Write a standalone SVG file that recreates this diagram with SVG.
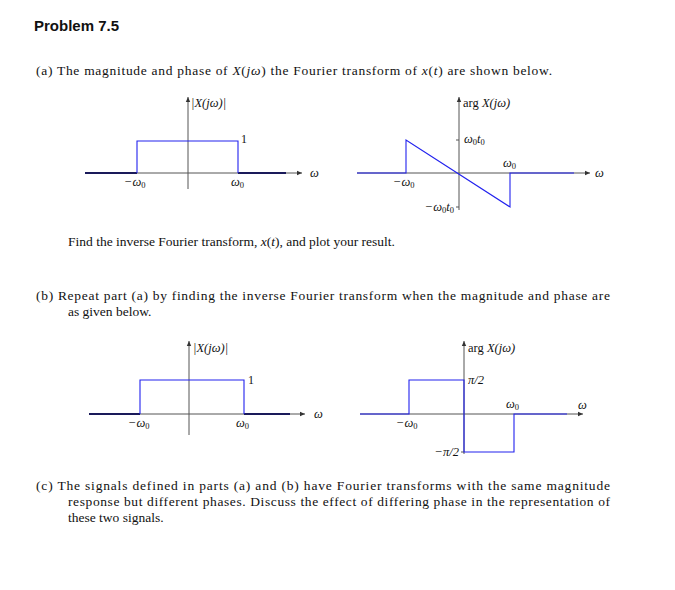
<svg xmlns="http://www.w3.org/2000/svg" width="675" height="590" viewBox="0 0 675 590">
<style>
text{font-family:"Liberation Serif","DejaVu Serif",serif;font-size:13.5px;fill:#111}
.m{font-style:italic;font-size:12.5px}
.s{font-size:12px}
.b{font-style:normal;font-size:8.5px}
.ax{stroke:#555;stroke-width:1;fill:none}
.bl{stroke:#2222ee;stroke-width:1.1;fill:none}
.bk{stroke:#1a1a5a;stroke-width:1.8;fill:none}
</style>
<defs><marker id="ar" markerWidth="6" markerHeight="6" refX="5" refY="3" orient="auto" markerUnits="userSpaceOnUse"><path d="M0,0.8 L5,3 L0,5.2 Z" fill="#333"/></marker></defs>
<rect width="675" height="590" fill="#fff"/>
<text x="34" y="31" style="font-family:'Liberation Sans',Arial,sans-serif;font-weight:bold;font-size:15px">Problem 7.5</text>
<text x="36" y="75" textLength="516" lengthAdjust="spacing">(a) The magnitude and phase of <tspan font-style="italic">X</tspan>(<tspan font-style="italic">jω</tspan>) the Fourier transform of <tspan font-style="italic">x</tspan>(<tspan font-style="italic">t</tspan>) are shown below.</text>
<text x="68" y="246">Find the inverse Fourier transform, <tspan font-style="italic">x</tspan>(<tspan font-style="italic">t</tspan>), and plot your result.</text>
<text x="36" y="300" textLength="574">(b) Repeat part (a) by finding the inverse Fourier transform when the magnitude and phase are</text>
<text x="68" y="316">as given below.</text>
<text x="36" y="490" textLength="574">(c) The signals defined in parts (a) and (b) have Fourier transforms with the same magnitude</text>
<text x="68" y="506" textLength="542">response but different phases. Discuss the effect of differing phase in the representation of</text>
<text x="68" y="522">these two signals.</text>
<g id="plot-a-mag">
<line class="ax" x1="85" y1="173" x2="302" y2="173" marker-end="url(#ar)"/>
<line class="ax" x1="188" y1="189" x2="188" y2="97" marker-end="url(#ar)"/>
<path class="bk" d="M85,173H137M238,173H286"/>
<path class="bl" d="M137,173V141H238V173"/>
<text x="241" y="143" class="s">1</text>
<text x="124" y="186" class="m">−ω<tspan class="b" dy="2">0</tspan></text>
<text x="231" y="186" class="m">ω<tspan class="b" dy="2">0</tspan></text>
<text x="310" y="177" class="m">ω</text>
<text x="191" y="107" class="m">|X(jω)|</text>
</g>
<g id="plot-a-phase">
<line class="ax" x1="357" y1="173" x2="590" y2="173" marker-end="url(#ar)"/>
<line class="ax" x1="459" y1="210" x2="459" y2="97" marker-end="url(#ar)"/>
<path class="ax" d="M456,140H459M456,207H459"/>
<path class="bl" d="M357,173H406V140L510,207V173H574"/>
<text x="464" y="143" class="m">ω<tspan class="b" dy="2">0</tspan><tspan dy="-2">t</tspan><tspan class="b" dy="2">0</tspan></text>
<text x="503" y="167" class="m">ω<tspan class="b" dy="2">0</tspan></text>
<text x="393" y="186" class="m">−ω<tspan class="b" dy="2">0</tspan></text>
<text x="454" y="211" class="m" text-anchor="end">−ω<tspan class="b" dy="2">0</tspan><tspan dy="-2">t</tspan><tspan class="b" dy="2">0</tspan></text>
<text x="595" y="177" class="m">ω</text>
<text x="463" y="107" class="m"><tspan font-style="normal">arg </tspan>X(jω)</text>
</g>
<g id="plot-b-mag">
<line class="ax" x1="89" y1="414" x2="305" y2="414" marker-end="url(#ar)"/>
<line class="ax" x1="189" y1="435" x2="189" y2="341" marker-end="url(#ar)"/>
<path class="bk" d="M89,414H140M244,414H290"/>
<path class="bl" d="M140,414V380H244V414"/>
<text x="248" y="384" class="s">1</text>
<text x="128" y="427" class="m">−ω<tspan class="b" dy="2">0</tspan></text>
<text x="236" y="427" class="m">ω<tspan class="b" dy="2">0</tspan></text>
<text x="314" y="418" class="m">ω</text>
<text x="193" y="352" class="m">|X(jω)|</text>
</g>
<g id="plot-b-phase">
<line class="ax" x1="360" y1="414" x2="583" y2="414" marker-end="url(#ar)"/>
<line class="ax" x1="464" y1="454" x2="464" y2="341" marker-end="url(#ar)"/>
<path class="ax" d="M461,452H464"/>
<path class="bl" d="M360,414H409V380H464V452H514V414H567"/>
<text x="468" y="384" class="m">π/2</text>
<text x="506" y="408" class="m">ω<tspan class="b" dy="2">0</tspan></text>
<text x="578" y="409" class="m">ω</text>
<text x="396" y="427" class="m">−ω<tspan class="b" dy="2">0</tspan></text>
<text x="459" y="456" class="m" text-anchor="end">−π/2</text>
<text x="468" y="352" class="m"><tspan font-style="normal">arg </tspan>X(jω)</text>
</g>
</svg>
